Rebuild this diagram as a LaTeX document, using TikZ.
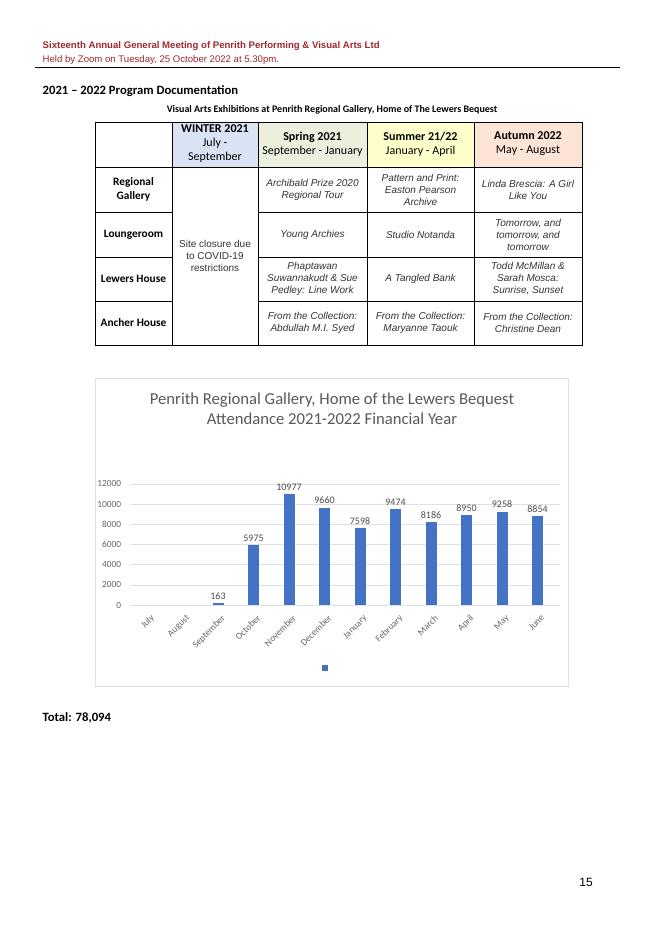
\documentclass[tikz,border=0pt]{standalone}
\usepackage{fontspec}
\setmainfont{Liberation Sans}
\newfontfamily\carlf{Carlito}
\begin{document}
\begin{tikzpicture}[x=0.75pt,y=-0.75pt,
  hd/.style={font=\carlf\fontsize{9}{10.5}\selectfont,align=center},
  it/.style={font=\itshape\fontsize{7.5}{9}\selectfont,align=center,text=black!80},
  rl/.style={font=\carlf\bfseries\fontsize{8.5}{10}\selectfont,align=center},
  ax/.style={font=\carlf\fontsize{7}{8}\selectfont,text=black!60,inner sep=0.5pt}]
\definecolor{barc}{HTML}{4472C4}
\definecolor{hdred}{HTML}{A0282D}
\useasboundingbox (0,0) rectangle (656,928);
\fill[white] (0,0) rectangle (656,928);
\node[anchor=west,font=\bfseries\fontsize{7.2}{8}\selectfont,text=hdred] (h1) at (38,46) {Sixteenth Annual General Meeting of Penrith Performing \& Visual Arts Ltd};
\node[anchor=west,font=\fontsize{7.2}{8}\selectfont,text=hdred] (h2) at (38,60) {Held by Zoom on Tuesday, 25 October 2022 at 5.30pm.};
\draw[line width=0.6pt] (35,67) -- (620,67);
\node[anchor=west,font=\carlf\bfseries\fontsize{9.5}{11}\selectfont] (sec) at (38,91) {2021 – 2022 Program Documentation};
\node[font=\carlf\bfseries\fontsize{7.5}{9}\selectfont] (tt) at (332,110) {Visual Arts Exhibitions at Penrith Regional Gallery, Home of The Lewers Bequest};
\fill[fill={rgb,255:red,218;green,227;blue,243}] (172,122) rectangle (258,167);
\fill[fill={rgb,255:red,235;green,240;blue,222}] (258,122) rectangle (367,167);
\fill[fill={rgb,255:red,255;green,255;blue,204}] (367,122) rectangle (474,167);
\fill[fill={rgb,255:red,252;green,228;blue,214}] (474,122) rectangle (582,167);
\draw[line width=0.5pt] (95,122) rectangle (582,345);
\foreach \x in {172,258,367,474} \draw[line width=0.5pt] (\x,122) -- (\x,345);
\draw[line width=0.5pt] (95,167) -- (582,167);
\foreach \y in {212,257,301} {\draw[line width=0.5pt] (95,\y) -- (172,\y); \draw[line width=0.5pt] (258,\y) -- (582,\y);}
\node[hd] (c1) at (215,144) {\textbf{WINTER 2021}\\July -\\September};
\node[hd] (c2) at (312.5,144) {\textbf{Spring 2021}\\September - January};
\node[hd] (c3) at (420.5,144) {\textbf{Summer 21/22}\\January - April};
\node[hd] (c4) at (528,144) {\textbf{Autumn 2022}\\May - August};
\node[rl] (r1) at (133.5,189.5) {Regional\\Gallery};
\node[rl] (r2) at (133.5,234.5) {Loungeroom};
\node[rl] (r3) at (133.5,279) {Lewers House};
\node[rl] (r4) at (133.5,323) {Ancher House};
\node[font=\fontsize{7.5}{9}\selectfont,align=center,text=black!80] (cl) at (215,256) {Site closure due\\to COVID-19\\restrictions};
\node[it] (a1) at (312.5,189.5) {Archibald Prize 2020\\Regional Tour};
\node[it] (a2) at (420.5,189.5) {Pattern and Print:\\Easton Pearson\\Archive};
\node[it] (a3) at (528,189.5) {Linda Brescia: A Girl\\Like You};
\node[it] (b1) at (312.5,234.5) {Young Archies};
\node[it] (b2) at (420.5,234.5) {Studio Notanda};
\node[it] (b3) at (528,234.5) {Tomorrow, and\\tomorrow, and\\tomorrow};
\node[it] (d1) at (312.5,279) {Phaptawan\\Suwannakudt \& Sue\\Pedley: Line Work};
\node[it] (d2) at (420.5,279) {A Tangled Bank};
\node[it] (d3) at (528,279) {Todd McMillan \&\\Sarah Mosca:\\Sunrise, Sunset};
\node[it] (e1) at (312.5,323) {From the Collection:\\Abdullah M.I. Syed};
\node[it] (e2) at (420.5,323) {From the Collection:\\Maryanne Taouk};
\node[it] (e3) at (528,323) {From the Collection:\\Christine Dean};
\draw[black!12] (95,378) rectangle (568,686);
\node[font=\carlf\fontsize{12.5}{15}\selectfont,align=center,text=black!65] (ct) at (332,409) {Penrith Regional Gallery, Home of the Lewers Bequest\\Attendance 2021-2022 Financial Year};
\foreach \v/\l in {0/0,1/2000,2/4000,3/6000,4/8000,5/10000,6/12000} {
  \draw[black!12,line width=0.4pt] (130,605-20.17*\v) -- (560,605-20.17*\v);
  \node[ax,anchor=east] at (122,605-20.17*\v) {\l};}
\foreach \i/\m/\v in {0/July/0,1/August/0,2/September/163,3/October/5975,4/November/10977,5/December/9660,6/January/7598,7/February/9474,8/March/8186,9/April/8950,10/May/9258,11/June/8854} {
  \pgfmathsetmacro{\cx}{147+35.5*\i}
  \pgfmathsetmacro{\ty}{605-0.010085*\v}
  \ifnum\v>0
    \fill[barc] (\cx-5.5,605) rectangle (\cx+5.5,\ty);
    \node[text=black!70,font=\carlf\fontsize{7.5}{9}\selectfont,anchor=south,inner sep=1pt] at (\cx,\ty-2) {\v};
  \fi
  \node[ax,rotate=45,anchor=north east] at (\cx+3,613) {\m};
}
\fill[barc] (322,665) rectangle (328,671);
\node[anchor=west,font=\carlf\bfseries\fontsize{9.5}{11}\selectfont] (tot) at (38,718) {Total: 78,094};
\node[font=\fontsize{9}{11}\selectfont] (pg) at (586,882) {15};
\end{tikzpicture}
\end{document}
